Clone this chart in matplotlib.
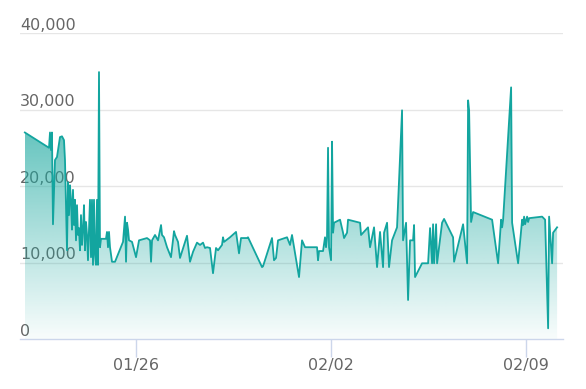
import numpy as np
import matplotlib
matplotlib.use("Agg")
import matplotlib.pyplot as plt
from matplotlib.colors import to_rgb

# time in days since 01/22 00:00
days = [
    0.01, 0.876, 0.912, 0.948, 0.983, 1.019, 1.091, 1.163, 1.270, 1.342,
    1.414, 1.450, 1.522, 1.558, 1.594, 1.629, 1.665, 1.701, 1.737, 1.773,
    1.809, 1.845, 1.881, 1.917, 1.952, 1.988, 2.024, 2.060, 2.096, 2.132,
    2.168, 2.204, 2.240, 2.275, 2.311, 2.347, 2.383, 2.419, 2.455, 2.491,
    2.527, 2.563, 2.598, 2.634, 2.670, 2.706, 2.742, 2.921, 2.957, 2.993,
    3.029, 3.065, 3.137, 3.245, 3.532, 3.604, 3.640, 3.676, 3.712, 3.747,
    3.855, 3.999, 4.106, 4.393, 4.501, 4.537, 4.573, 4.680, 4.788, 4.896,
    4.932, 5.003, 5.111, 5.254, 5.362, 5.398, 5.505, 5.577, 5.828, 5.936,
    6.044, 6.187, 6.295, 6.403, 6.474, 6.546, 6.654, 6.761, 6.869, 6.941,
    7.084, 7.120, 7.156, 7.371, 7.587, 7.694, 7.766, 7.981, 8.017, 8.520,
    8.555, 8.878, 8.950, 9.022, 9.094, 9.417, 9.524, 9.596, 9.847, 9.955,
    10.063, 10.493, 10.529, 10.565, 10.709, 10.780, 10.816, 10.852, 10.888, 10.924,
    10.996, 11.032, 11.068, 11.104, 11.319, 11.427, 11.463, 11.570, 11.606, 12.037,
    12.073, 12.324, 12.396, 12.539, 12.647, 12.754, 12.862, 12.898, 13.006, 13.077,
    13.185, 13.364, 13.544, 13.580, 13.688, 13.760, 13.831, 13.939, 13.975, 14.011,
    14.262, 14.478, 14.549, 14.621, 14.657, 14.693, 14.765, 14.801, 14.980, 15.052,
    15.375, 15.411, 15.734, 15.878, 15.914, 15.950, 16.021, 16.093, 16.775, 16.990,
    17.098, 17.134, 17.170, 17.457, 17.493, 17.708, 17.852, 17.888, 17.923, 17.959,
    18.031, 18.067, 18.103, 18.569, 18.677, 18.785, 18.820, 18.928, 18.964, 19.107,
]
values = [
    27000, 25000, 27000, 24700, 27000, 15000, 23400, 23800, 26400, 26500,
    26000, 23400, 11600, 20500, 16200, 20100, 18200, 14300, 19500, 14900,
    18200, 12900, 17500, 13600, 14500, 11600, 16200, 12300, 14300, 17500,
    11600, 15300, 13600, 10300, 14300, 18200, 10700, 18200, 9700, 18200,
    11000, 9700, 18200, 9700, 34900, 12000, 13100, 13100, 14000, 12000,
    14000, 12000, 10100, 10100, 12700, 16000, 10100, 15200, 14300, 12900,
    12700, 10700, 12900, 13200, 12900, 10100, 12900, 13600, 12900, 14900,
    13600, 13300, 12000, 10700, 14100, 13600, 12700, 10600, 13500, 10100,
    11400, 12600, 12300, 12600, 11900, 12000, 11900, 8600, 11900, 11600,
    12300, 13300, 12700, 13300, 14000, 11200, 13200, 13200, 13300, 9400,
    9500, 13200, 10300, 10600, 12900, 13300, 12300, 13600, 8100, 12900,
    12000, 12000, 10300, 11500, 11500, 13300, 12000, 13300, 25000, 12000,
    10300, 25800, 13900, 15200, 15600, 13900, 13200, 13900, 15600, 15200,
    13600, 14600, 12000, 14600, 9400, 14000, 9400, 13900, 15200, 9400,
    12900, 14600, 29900, 12900, 15200, 5100, 12900, 12900, 14900, 8100,
    9900, 9900, 14500, 9900, 15000, 9900, 15000, 9900, 15200, 15700,
    13300, 10100, 15000, 9900, 31200, 29900, 15300, 16600, 15600, 9900,
    15600, 14600, 15600, 32900, 15200, 9900, 15600, 14900, 16000, 15000,
    16000, 15300, 15800, 16000, 15600, 1400, 16000, 9900, 13900, 14600,
]

tick_days = [4, 11, 18]
tick_labels = ["01/26", "02/02", "02/09"]
y_ticks = [0, 10000, 20000, 30000, 40000]

LINE = "#13a59f"
GRID = "#e6e6e6"
AXIS = "#ccd6eb"
TEXT = "#666666"


def main():
    x = np.array(days)
    y = np.array(values)

    fig = plt.figure(figsize=(5.86, 3.89), dpi=100)
    ax = fig.add_axes([0.0341, 0.1285, 0.9267, 0.7865])
    ax.set_xlim(-0.165, 19.32)
    ax.set_ylim(0, 40000)

    for v in y_ticks[1:]:
        ax.axhline(v, color=GRID, lw=1, zorder=0)

    # gradient fill under the line
    r, g, b = to_rgb("#1aa89f")
    grad = np.zeros((256, 1, 4))
    grad[:, 0, 0] = r
    grad[:, 0, 1] = g
    grad[:, 0, 2] = b
    grad[:, 0, 3] = np.linspace(0.03, 0.85, 256)
    img = ax.imshow(grad, extent=[x[0], x[-1], 0, 35000], origin="lower",
                    aspect="auto", zorder=1)
    poly = ax.fill_between(x, 0, y, color="none", lw=0)
    img.set_clip_path(poly.get_paths()[0], transform=ax.transData)

    ax.plot(x, y, color=LINE, lw=1.3, zorder=3)

    for s in ["top", "right", "left"]:
        ax.spines[s].set_visible(False)
    ax.spines["bottom"].set_color(AXIS)
    ax.spines["bottom"].set_linewidth(1)

    ax.set_xticks(tick_days)
    ax.set_xticklabels(tick_labels)
    ax.tick_params(axis="x", length=13, width=1, color=AXIS, labelcolor=TEXT,
                   labelsize=11.5, pad=1)
    ax.set_yticks([])

    for v in y_ticks:
        ax.text(-0.165, v + 450, f"{v:,}", color=TEXT, fontsize=11.5,
                ha="left", va="baseline", zorder=0)

    fig.savefig("out.png", dpi=100)
    plt.close(fig)


if __name__ == "__main__":
    main()
